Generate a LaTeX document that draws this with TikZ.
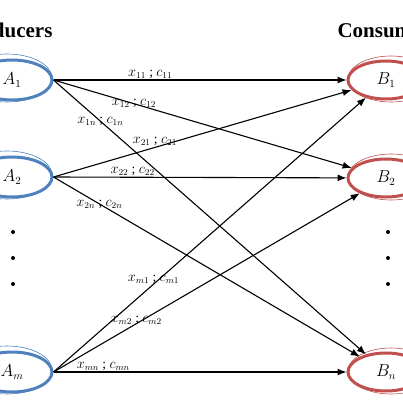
\documentclass[tikz,border=0pt]{standalone}
\usepackage{amsmath}
\usepackage{fontspec}
\setmainfont{Liberation Serif}
\usetikzlibrary{shapes.geometric}
\usetikzlibrary{arrows.meta}

\definecolor{prodblue}{RGB}{79,129,189}
\definecolor{consred}{RGB}{192,80,77}

\begin{document}
\begin{tikzpicture}[x=1pt,y=-1pt,
  prod/.style={ellipse,draw=prodblue,line width=3pt,minimum width=80pt,minimum height=40pt,inner sep=0pt,font=\fontsize{16}{18}\selectfont},
  cons/.style={ellipse,draw=consred,line width=3pt,minimum width=76pt,minimum height=38pt,inner sep=0pt,font=\fontsize{16}{18}\selectfont},
  rim/.style={line width=0.6pt},
  flow/.style={-{Latex[length=9pt,width=7pt]},line width=1.1pt},
  cost/.style={font=\fontsize{13.5}{15}\selectfont,inner sep=1pt},
  heading/.style={font=\fontsize{21}{24}\selectfont\bfseries}]
  \useasboundingbox (0,0) rectangle (403,403);

  \node [heading,anchor=base east] (prodtitle) at (56,38) {Producers};
  \node [heading,anchor=base west] (constitle) at (334,38) {Consumers};

  % outer rims
  \draw [prodblue,rim] (7,78) ellipse [x radius=45,y radius=24];
  \draw [prodblue,rim] (7,175) ellipse [x radius=45,y radius=24];
  \draw [prodblue,rim] (7,370) ellipse [x radius=45,y radius=24];
  \draw [consred,rim] (391,79) ellipse [x radius=43,y radius=23];
  \draw [consred,rim] (391,177) ellipse [x radius=43,y radius=23];
  \draw [consred,rim] (391,371) ellipse [x radius=43,y radius=23];

  \node [prod] (A1) at (12,80) {$A_1$};
  \node [prod] (A2) at (12,177) {$A_2$};
  \node [prod] (Am) at (12,372) {$A_m$};
  \node [cons] (B1) at (386,80) {$B_1$};
  \node [cons] (B2) at (386,178) {$B_2$};
  \node [cons] (Bn) at (386,372) {$B_n$};

  \foreach \y in {232,258,284} {
    \fill (13,\y) circle [radius=2];
    \fill (388,\y) circle [radius=2];
  }

  \draw [flow] (A1.east) -- node [cost,pos=0.33,above] {$x_{11}$ ; $c_{11}$} (B1);
  \draw [flow] (A1.east) -- node [cost,pos=0.27] {$x_{12}$ ; $c_{12}$} (B2);
  \draw [flow] (A1.east) -- node [cost,pos=0.15] {$x_{1n}$ ; $c_{1n}$} (Bn);
  \draw [flow] (A2.east) -- node [cost,pos=0.34,above] {$x_{21}$ ; $c_{21}$} (B1);
  \draw [flow] (A2.east) -- node [cost,pos=0.27,above] {$x_{22}$ ; $c_{22}$} (B2);
  \draw [flow] (A2.east) -- node [cost,pos=0.15] {$x_{2n}$ ; $c_{2n}$} (Bn);
  \draw [flow] (Am.east) -- node [cost,pos=0.32,above=-1pt] {$x_{m1}$ ; $c_{m1}$} (B1);
  \draw [flow] (Am.east) -- node [cost,pos=0.27,above=-2pt] {$x_{m2}$ ; $c_{m2}$} (B2);
  \draw [flow] (Am.east) -- node [cost,pos=0.17,above] {$x_{mn}$ ; $c_{mn}$} (Bn);
\end{tikzpicture}
\end{document}
